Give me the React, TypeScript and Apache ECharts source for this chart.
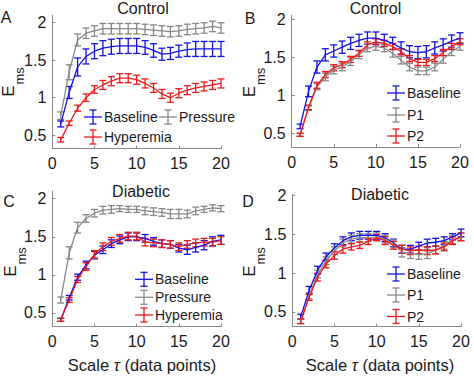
import React, { useEffect, useRef } from "react";
import * as echarts from "echarts";

// Scale tau (data points)
const scales = [1, 2, 3, 4, 5, 6, 7, 8, 9, 10, 11, 12, 13, 14, 15, 16, 17, 18, 19, 20];
const xTicks = [0, 5, 10, 15, 20];
const yTicks = [0.5, 1, 1.5, 2];

// Panel A - Control (Baseline / Pressure / Hyperemia)
const aBaseline = [0.65, 1.07, 1.41, 1.55, 1.62, 1.66, 1.68, 1.69, 1.69, 1.69, 1.67, 1.63, 1.58, 1.59, 1.62, 1.64, 1.65, 1.65, 1.65, 1.65];
const aBaselineErr = [0.04, 0.08, 0.12, 0.1, 0.1, 0.1, 0.1, 0.1, 0.1, 0.1, 0.09, 0.09, 0.08, 0.08, 0.08, 0.09, 0.1, 0.1, 0.1, 0.1];
const aPressure = [0.76, 1.34, 1.77, 1.86, 1.89, 1.92, 1.92, 1.92, 1.92, 1.92, 1.91, 1.9, 1.89, 1.88, 1.89, 1.91, 1.92, 1.93, 1.95, 1.93];
const aPressureErr = [0.05, 0.1, 0.08, 0.07, 0.07, 0.07, 0.07, 0.07, 0.07, 0.07, 0.07, 0.07, 0.07, 0.07, 0.07, 0.07, 0.07, 0.07, 0.07, 0.07];
const aHyperemia = [0.44, 0.66, 0.86, 1.0, 1.11, 1.17, 1.22, 1.26, 1.26, 1.24, 1.19, 1.13, 1.05, 1.0, 1.06, 1.1, 1.13, 1.15, 1.17, 1.19];
const aHyperemiaErr = [0.03, 0.03, 0.04, 0.05, 0.05, 0.06, 0.06, 0.06, 0.06, 0.06, 0.06, 0.06, 0.06, 0.06, 0.06, 0.06, 0.06, 0.06, 0.06, 0.06];

// Panel B - Control (Baseline / P1 / P2)
const bBaseline = [0.59, 1.05, 1.37, 1.53, 1.58, 1.63, 1.68, 1.72, 1.75, 1.75, 1.72, 1.68, 1.62, 1.57, 1.56, 1.57, 1.62, 1.66, 1.71, 1.75];
const bBaselineErr = [0.03, 0.07, 0.08, 0.08, 0.08, 0.08, 0.08, 0.08, 0.08, 0.08, 0.08, 0.08, 0.08, 0.08, 0.08, 0.08, 0.08, 0.08, 0.08, 0.07];
const bP1 = [0.48, 0.83, 1.11, 1.24, 1.33, 1.37, 1.44, 1.53, 1.62, 1.64, 1.62, 1.55, 1.46, 1.37, 1.32, 1.32, 1.37, 1.47, 1.57, 1.64];
const bP1Err = [0.02, 0.03, 0.04, 0.05, 0.05, 0.05, 0.05, 0.05, 0.05, 0.05, 0.05, 0.05, 0.05, 0.05, 0.05, 0.05, 0.05, 0.05, 0.05, 0.05];
const bP2 = [0.48, 0.84, 1.13, 1.27, 1.36, 1.4, 1.47, 1.55, 1.66, 1.7, 1.68, 1.64, 1.57, 1.48, 1.43, 1.43, 1.48, 1.56, 1.64, 1.7];
const bP2Err = [0.02, 0.03, 0.04, 0.04, 0.04, 0.04, 0.04, 0.04, 0.04, 0.04, 0.04, 0.04, 0.04, 0.04, 0.04, 0.04, 0.04, 0.04, 0.04, 0.04];

// Panel C - Diabetic (Baseline / Pressure / Hyperemia)
const cBaseline = [0.41, 0.7, 0.97, 1.13, 1.26, 1.33, 1.41, 1.46, 1.5, 1.5, 1.48, 1.44, 1.41, 1.4, 1.35, 1.33, 1.36, 1.39, 1.44, 1.46];
const cBaselineErr = [0.02, 0.03, 0.04, 0.05, 0.05, 0.05, 0.05, 0.05, 0.05, 0.05, 0.05, 0.05, 0.05, 0.05, 0.05, 0.06, 0.06, 0.06, 0.06, 0.06];
const cPressure = [0.67, 1.29, 1.62, 1.74, 1.81, 1.85, 1.86, 1.87, 1.86, 1.86, 1.84, 1.83, 1.82, 1.8, 1.8, 1.8, 1.84, 1.86, 1.88, 1.87];
const cPressureErr = [0.04, 0.08, 0.07, 0.05, 0.05, 0.05, 0.05, 0.04, 0.04, 0.04, 0.05, 0.05, 0.05, 0.06, 0.06, 0.05, 0.05, 0.04, 0.04, 0.04];
const cHyperemia = [0.41, 0.67, 0.94, 1.11, 1.27, 1.37, 1.44, 1.48, 1.51, 1.51, 1.43, 1.42, 1.41, 1.4, 1.37, 1.4, 1.42, 1.43, 1.43, 1.45];
const cHyperemiaErr = [0.02, 0.03, 0.04, 0.05, 0.05, 0.05, 0.05, 0.05, 0.05, 0.05, 0.05, 0.05, 0.05, 0.05, 0.05, 0.05, 0.05, 0.05, 0.05, 0.05];

// Panel D - Diabetic (Baseline / P1 / P2)
const dBaseline = [0.44, 0.78, 1.04, 1.21, 1.33, 1.42, 1.47, 1.49, 1.49, 1.49, 1.46, 1.39, 1.31, 1.31, 1.35, 1.39, 1.4, 1.42, 1.47, 1.52];
const dBaselineErr = [0.03, 0.05, 0.05, 0.05, 0.05, 0.05, 0.05, 0.05, 0.05, 0.05, 0.05, 0.05, 0.05, 0.05, 0.05, 0.05, 0.05, 0.05, 0.04, 0.05];
const dP1 = [0.38, 0.71, 0.99, 1.16, 1.29, 1.39, 1.44, 1.46, 1.46, 1.47, 1.44, 1.38, 1.27, 1.25, 1.24, 1.25, 1.3, 1.36, 1.43, 1.47];
const dP1Err = [0.03, 0.04, 0.05, 0.05, 0.05, 0.05, 0.05, 0.05, 0.05, 0.05, 0.05, 0.05, 0.06, 0.06, 0.06, 0.06, 0.05, 0.05, 0.05, 0.05];
const dP2 = [0.38, 0.69, 0.95, 1.12, 1.23, 1.31, 1.34, 1.36, 1.41, 1.46, 1.42, 1.36, 1.31, 1.29, 1.3, 1.29, 1.3, 1.34, 1.42, 1.47];
const dP2Err = [0.03, 0.04, 0.05, 0.05, 0.05, 0.05, 0.04, 0.04, 0.04, 0.04, 0.05, 0.05, 0.05, 0.05, 0.05, 0.05, 0.05, 0.05, 0.05, 0.05];

const namesAC = ["Baseline", "Pressure", "Hyperemia"];
const namesBD = ["Baseline", "P1", "P2"];
const titles = ["Control", "Control", "Diabetic", "Diabetic"];
const letters = ["A", "B", "C", "D"];

const BLUE = "#1212e8";
const GRAY = "#878787";
const RED = "#ee1a1a";
const FONT = "'Liberation Sans', Arial, Helvetica, sans-serif";
const AXIS = "#8a8a8a";
const TXT = "#1a1a1a";

type S = { name: string; color: string; values: number[]; errs: number[] };

const panels: {
  grid: any;
  yMin: number;
  yMax: number;
  series: S[];
  legend: { x: number; y: number }[];
  letter: { x: number; y: number };
  title: { x: number; y: number };
  ylab: { x: number; y: number };
  xlab?: { x: number; y: number };
}[] = [
  {
    grid: { left: 52.3, top: 15.2, width: 168.7, height: 133.5 },
    yMin: 0.32,
    yMax: 2.1,
    series: [
      { name: namesAC[0], color: BLUE, values: aBaseline, errs: aBaselineErr },
      { name: namesAC[1], color: GRAY, values: aPressure, errs: aPressureErr },
      { name: namesAC[2], color: RED, values: aHyperemia, errs: aHyperemiaErr },
    ],
    legend: [
      { x: 93, y: 117 },
      { x: 168, y: 117 },
      { x: 93, y: 137 },
    ],
    letter: { x: 6, y: 17.5 },
    title: { x: 143, y: 8 },
    ylab: { x: 8.5, y: 85.5 },
  },
  {
    grid: { left: 291.7, top: 15.2, width: 168.3, height: 131.8 },
    yMin: 0.32,
    yMax: 2.05,
    series: [
      { name: namesBD[0], color: BLUE, values: bBaseline, errs: bBaselineErr },
      { name: namesBD[1], color: GRAY, values: bP1, errs: bP1Err },
      { name: namesBD[2], color: RED, values: bP2, errs: bP2Err },
    ],
    legend: [
      { x: 396, y: 93 },
      { x: 396, y: 115 },
      { x: 396, y: 136 },
    ],
    letter: { x: 250, y: 18 },
    title: { x: 375.5, y: 8.5 },
    ylab: { x: 249.5, y: 86 },
  },
  {
    grid: { left: 52.3, top: 191.1, width: 168.7, height: 135.6 },
    yMin: 0.32,
    yMax: 2.1,
    series: [
      { name: namesAC[1], color: GRAY, values: cPressure, errs: cPressureErr },
      { name: namesAC[0], color: BLUE, values: cBaseline, errs: cBaselineErr },
      { name: namesAC[2], color: RED, values: cHyperemia, errs: cHyperemiaErr },
    ],
    legend: [
      { x: 144, y: 297.3 },
      { x: 144, y: 279.3 },
      { x: 144, y: 315 },
    ],
    letter: { x: 9, y: 201 },
    title: { x: 141, y: 191.7 },
    ylab: { x: 10.5, y: 265.5 },
    xlab: { x: 142, y: 365 },
  },
  {
    grid: { left: 292.3, top: 194.2, width: 168.7, height: 132.5 },
    yMin: 0.31,
    yMax: 2.02,
    series: [
      { name: namesBD[0], color: BLUE, values: dBaseline, errs: dBaselineErr },
      { name: namesBD[1], color: GRAY, values: dP1, errs: dP1Err },
      { name: namesBD[2], color: RED, values: dP2, errs: dP2Err },
    ],
    legend: [
      { x: 396, y: 274 },
      { x: 396, y: 295 },
      { x: 396, y: 316.5 },
    ],
    letter: { x: 248, y: 201 },
    title: { x: 380, y: 194.5 },
    ylab: { x: 249.5, y: 265.5 },
    xlab: { x: 380, y: 365 },
  },
];

const CAP = 3.5;
const LW = 1.3;

function errRender(color: string) {
  return (params: any, api: any) => {
    const x = api.value(0);
    const lo = api.coord([x, api.value(1)]);
    const hi = api.coord([x, api.value(2)]);
    const style = { stroke: color, lineWidth: LW };
    return {
      type: "group",
      children: [
        { type: "line", shape: { x1: lo[0], y1: lo[1], x2: hi[0], y2: hi[1] }, style },
        { type: "line", shape: { x1: lo[0] - CAP, y1: lo[1], x2: lo[0] + CAP, y2: lo[1] }, style },
        { type: "line", shape: { x1: hi[0] - CAP, y1: hi[1], x2: hi[0] + CAP, y2: hi[1] }, style },
      ],
    };
  };
}

function legendIcon(cx: number, cy: number, color: string) {
  const style = { stroke: color, lineWidth: LW };
  return [
    { type: "line", shape: { x1: cx - 9, y1: cy, x2: cx + 9, y2: cy }, style },
    { type: "line", shape: { x1: cx, y1: cy - 7, x2: cx, y2: cy + 7 }, style },
    { type: "line", shape: { x1: cx - CAP, y1: cy - 7, x2: cx + CAP, y2: cy - 7 }, style },
    { type: "line", shape: { x1: cx - CAP, y1: cy + 7, x2: cx + CAP, y2: cy + 7 }, style },
  ];
}

function buildOption() {
  const grid: any[] = [];
  const xAxis: any[] = [];
  const yAxis: any[] = [];
  const series: any[] = [];
  const graphic: any[] = [];

  panels.forEach((p, i) => {
    grid.push({ ...p.grid, containLabel: false });
    xAxis.push({
      type: "value",
      gridIndex: i,
      min: xTicks[0],
      max: xTicks[xTicks.length - 1],
      interval: xTicks[1] - xTicks[0],
      axisLine: { show: true, lineStyle: { color: AXIS, width: 1 } },
      axisTick: { show: true, inside: true, length: 3, lineStyle: { color: AXIS } },
      axisLabel: { color: TXT, fontSize: 16, fontFamily: FONT, margin: 7 },
      splitLine: { show: false },
    });
    yAxis.push({
      type: "value",
      gridIndex: i,
      min: p.yMin,
      max: p.yMax,
      splitNumber: 4,
      axisLine: { show: true, lineStyle: { color: AXIS, width: 1 } },
      axisTick: { show: true, inside: true, length: 3, lineStyle: { color: AXIS } },
      axisLabel: {
        color: TXT,
        fontSize: 16,
        fontFamily: FONT,
        margin: 6,
        showMinLabel: false,
        showMaxLabel: false,
        formatter: (v: number) =>
          yTicks.some((t) => Math.abs(t - v) < 1e-6) ? String(v) : "",
      },
      splitLine: { show: false },
    });

    p.series.forEach((s) => {
      series.push({
        type: "line",
        name: s.name,
        xAxisIndex: i,
        yAxisIndex: i,
        data: scales.map((x, k) => [x, s.values[k]]),
        showSymbol: false,
        symbol: "none",
        lineStyle: { color: s.color, width: LW },
        itemStyle: { color: s.color },
        z: 2,
      });
      series.push({
        type: "custom",
        name: s.name + " err",
        xAxisIndex: i,
        yAxisIndex: i,
        data: scales.map((x, k) => [x, s.values[k] - s.errs[k], s.values[k] + s.errs[k]]),
        encode: { x: 0, y: [1, 2] },
        renderItem: errRender(s.color),
        z: 2,
      });
    });

    // legend
    p.series.forEach((s, k) => {
      const pos = p.legend[k];
      graphic.push({
        type: "group",
        children: [
          ...legendIcon(pos.x, pos.y, s.color),
          {
            type: "text",
            x: pos.x + 11,
            y: pos.y,
            style: {
              text: s.name,
              fill: TXT,
              font: `14px ${FONT}`,
              align: "left",
              verticalAlign: "middle",
            },
          },
        ],
      });
    });

    graphic.push({
      type: "text",
      x: p.letter.x,
      y: p.letter.y,
      style: { text: letters[i], fill: TXT, font: `16px ${FONT}`, align: "center", verticalAlign: "middle" },
    });
    graphic.push({
      type: "text",
      x: p.title.x,
      y: p.title.y,
      style: { text: titles[i], fill: TXT, font: `16px ${FONT}`, align: "center", verticalAlign: "middle" },
    });
    // rotated y-axis label E_ms
    graphic.push({
      type: "group",
      x: p.ylab.x,
      y: p.ylab.y,
      rotation: Math.PI / 2,
      children: [
        {
          type: "text",
          x: 0,
          y: 0,
          style: { text: "E", fill: TXT, font: `17px ${FONT}`, align: "right", verticalAlign: "middle" },
        },
        {
          type: "text",
          x: 1,
          y: 11,
          style: { text: "ms", fill: TXT, font: `13px ${FONT}`, align: "left", verticalAlign: "middle" },
        },
      ],
    });
    if (p.xlab) {
      graphic.push({
        type: "text",
        x: p.xlab.x,
        y: p.xlab.y,
        style: {
          text: "{n|Scale }{t|τ}{n| (data points)}",
          align: "center",
          verticalAlign: "middle",
          rich: {
            n: { fontSize: 16.5, fontFamily: FONT, fill: TXT, color: TXT },
            t: { fontSize: 16.5, fontFamily: FONT, fontStyle: "italic", fill: TXT, color: TXT },
          },
        },
      });
    }
  });

  return {
    animation: false,
    backgroundColor: "#ffffff",
    grid,
    xAxis,
    yAxis,
    series,
    graphic,
  };
}

export default function App() {
  const ref = useRef<HTMLDivElement>(null);
  useEffect(() => {
    if (!ref.current) return;
    const chart = echarts.init(ref.current, undefined, { renderer: "svg" });
    chart.setOption(buildOption() as any);
    return () => chart.dispose();
  }, []);
  return (
    <div
      ref={ref}
      style={{ position: "fixed", left: 0, top: 0, width: 474, height: 382, background: "#fff" }}
    />
  );
}
